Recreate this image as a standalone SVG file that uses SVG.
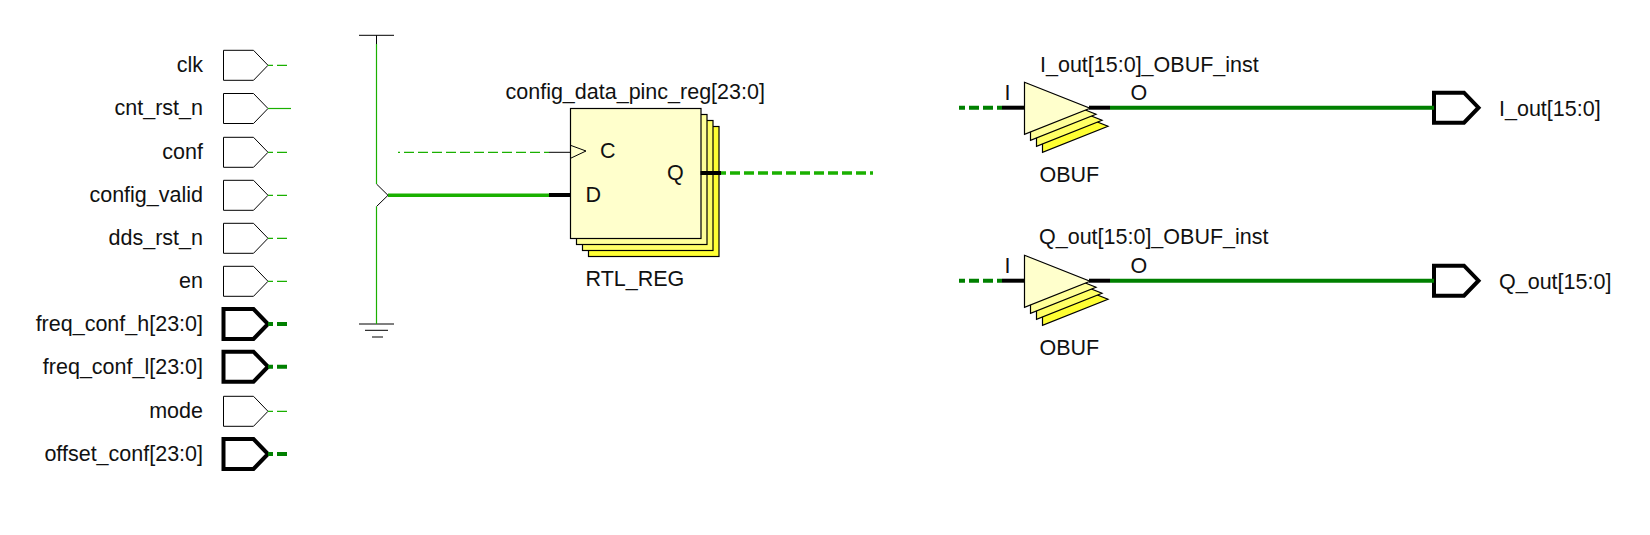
<svg xmlns="http://www.w3.org/2000/svg" width="1650" height="535" viewBox="0 0 1650 535">
<style>
text{font-family:"Liberation Sans",Arial,sans-serif;font-size:21.5px;fill:#111}
.r{text-anchor:end}
.port{fill:#fff;stroke:#000;stroke-width:1}
.bus{fill:#fff;stroke:#000;stroke-width:4}
.blk{fill:none;stroke:#000;stroke-width:1}
.blkb{fill:none;stroke:#000;stroke-width:4}
.g{fill:none;stroke:#1ab000;stroke-width:1.2}
.gb{fill:none;stroke:#1ab000;stroke-width:3.6}
.d{fill:none;stroke:#008000;stroke-width:4}
.dash{stroke-dasharray:10 4}
.s1{fill:#ffffcc;stroke:#000;stroke-width:1.2}
.s2{fill:#ffff99;stroke:#000;stroke-width:1.2}
.s3{fill:#ffff66;stroke:#000;stroke-width:1.2}
.s4{fill:#ffff33;stroke:#000;stroke-width:1.2}
</style>
<defs>
<path id="portshape" d="M0 -15H30L44.500 0L30 15H0Z"/>
<polygon id="tri" points="0,-26 65.500,0 0,26"/>
</defs>
<g id="port-clk"><use href="#portshape" class="port" x="223.500" y="65.300"/><text class="r" x="203" y="72">clk</text></g>
<g id="port-cnt_rst_n"><use href="#portshape" class="port" x="223.500" y="108.500"/><text class="r" x="203" y="115">cnt_rst_n</text></g>
<g id="port-conf"><use href="#portshape" class="port" x="223.500" y="152.300"/><text class="r" x="203" y="159">conf</text></g>
<g id="port-config_valid"><use href="#portshape" class="port" x="223.500" y="195.300"/><text class="r" x="203" y="202">config_valid</text></g>
<g id="port-dds_rst_n"><use href="#portshape" class="port" x="223.500" y="238.300"/><text class="r" x="203" y="245">dds_rst_n</text></g>
<g id="port-en"><use href="#portshape" class="port" x="223.500" y="281.300"/><text class="r" x="203" y="288">en</text></g>
<g id="port-freq_conf_h"><use href="#portshape" class="bus" x="223.500" y="324"/><text class="r" x="203" y="331">freq_conf_h[23:0]</text></g>
<g id="port-freq_conf_l"><use href="#portshape" class="bus" x="223.500" y="366.700"/><text class="r" x="203" y="374">freq_conf_l[23:0]</text></g>
<g id="port-mode"><use href="#portshape" class="port" x="223.500" y="411.300"/><text class="r" x="203" y="418">mode</text></g>
<g id="port-offset_conf"><use href="#portshape" class="bus" x="223.500" y="454"/><text class="r" x="203" y="461">offset_conf[23:0]</text></g>
<g id="rail">
<path class="blk" d="M359 35.300H394M376.500 35.300V44M376.500 184L388 195.300L376.500 206.500M359 324H394M365 330.300H388M372 337H383"/>
</g>
<g id="config_data_pinc_reg">
<rect class="s4" x="588.500" y="126.500" width="130.500" height="130"/>
<rect class="s3" x="582.500" y="120.500" width="130.500" height="130"/>
<rect class="s2" x="576.500" y="114.500" width="130.500" height="130"/>
<rect class="s1" x="570.500" y="108.500" width="130.500" height="130"/>
<path class="blk" d="M570.500 145.300L586 151L570.500 158.300"/>
<text x="505.500" y="99">config_data_pinc_reg[23:0]</text>
<text x="600" y="157.500">C</text>
<text x="585.500" y="202">D</text>
<text x="667" y="179.500">Q</text>
<text x="585.500" y="286">RTL_REG</text>
</g>
<g id="I_out_OBUF_inst">
<use href="#tri" class="s4" x="1042.500" y="126.300"/>
<use href="#tri" class="s3" x="1036.500" y="120.300"/>
<use href="#tri" class="s2" x="1030.500" y="114.300"/>
<use href="#tri" class="s1" x="1024.500" y="108.300"/>
<text x="1040" y="71.700">I_out[15:0]_OBUF_inst</text>
<text x="1004.500" y="100">I</text>
<text x="1130.500" y="100">O</text>
<text x="1039.500" y="182">OBUF</text>
</g>
<g id="Q_out_OBUF_inst">
<use href="#tri" class="s4" x="1042.500" y="299.300"/>
<use href="#tri" class="s3" x="1036.500" y="293.300"/>
<use href="#tri" class="s2" x="1030.500" y="287.300"/>
<use href="#tri" class="s1" x="1024.500" y="281.300"/>
<text x="1039" y="244.300">Q_out[15:0]_OBUF_inst</text>
<text x="1004.500" y="273">I</text>
<text x="1130.500" y="273">O</text>
<text x="1039.500" y="355">OBUF</text>
</g>
<g id="port-I_out"><use href="#portshape" class="bus" x="1434" y="107.700"/><text x="1499" y="115.500">I_out[15:0]</text></g>
<g id="port-Q_out"><use href="#portshape" class="bus" x="1434" y="280.700"/><text x="1499" y="288.500">Q_out[15:0]</text></g>
<g id="connectors">
<path class="g dash" stroke-dashoffset="5" d="M268 65.300H287"/>
<path class="g" d="M268 108.500H291"/>
<path class="g dash" stroke-dashoffset="5" d="M268 152.300H287"/>
<path class="g dash" stroke-dashoffset="5" d="M268 195.300H287"/>
<path class="g dash" stroke-dashoffset="5" d="M268 238.300H287"/>
<path class="g dash" stroke-dashoffset="5" d="M268 281.300H287"/>
<path class="d dash" stroke-dashoffset="5" d="M268 324H287"/>
<path class="d dash" stroke-dashoffset="5" d="M268 366.700H287"/>
<path class="g dash" stroke-dashoffset="5" d="M268 411.300H287"/>
<path class="d dash" stroke-dashoffset="5" d="M268 454H287"/>
<path class="g" d="M376.500 44V184M376.500 206.500V324"/>
<path class="g dash" stroke-dashoffset="8" d="M398 152.300H549"/>
<path class="blk" d="M549 152.300H570.500"/>
<path class="gb" d="M388 195.300H549"/>
<path class="blkb" d="M549 195H570.500"/>
<path class="blkb" d="M700.500 173H721"/>
<path class="gb dash" stroke-dashoffset="5" d="M721 173H873"/>
<path class="d dash" stroke-dashoffset="4" d="M959 107.700H1002"/>
<path class="blkb" d="M1002 107.700H1024.500"/>
<path class="blkb" d="M1089 107.700H1110"/>
<path class="d" d="M1110 107.700H1434"/>
<path class="d dash" stroke-dashoffset="4" d="M959 280.700H1002"/>
<path class="blkb" d="M1002 280.700H1024.500"/>
<path class="blkb" d="M1089 280.700H1110"/>
<path class="d" d="M1110 280.700H1434"/>
</g>
</svg>
